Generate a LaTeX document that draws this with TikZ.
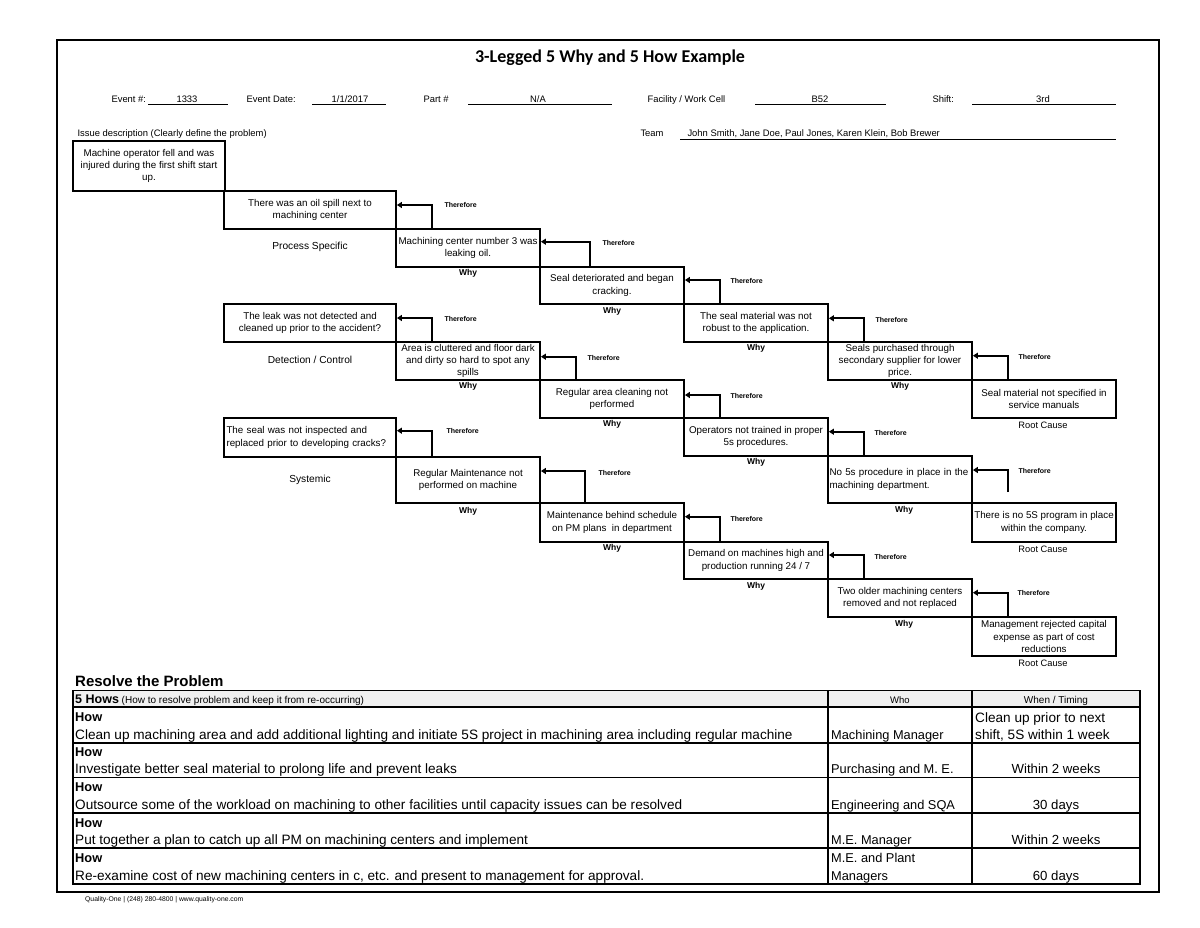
\documentclass[tikz,border=0pt]{standalone}
\usepackage{fontspec}
\setmainfont{Liberation Sans}
\newfontfamily\titlefont{Carlito}
\usetikzlibrary{arrows.meta}
\tikzset{
  wbox/.style={draw, line width=1.8pt, inner sep=1pt, align=center, font=\fontsize{9.8}{12.3}\selectfont},
  arr/.style={line width=2pt, -{Triangle[length=5pt,width=6pt]}},
  ther/.style={anchor=west, font=\bfseries\fontsize{7}{8}\selectfont},
  why/.style={font=\bfseries\fontsize{8.5}{10}\selectfont},
  root/.style={font=\fontsize{9.3}{11}\selectfont},
  leg/.style={font=\fontsize{10.2}{12}\selectfont},
  hdr/.style={anchor=base west, font=\fontsize{9.4}{11}\selectfont},
  hdrc/.style={anchor=base, font=\fontsize{9.4}{11}\selectfont},
  uline/.style={line width=1.5pt},
  tline/.style={line width=1.2pt},
  tcell/.style={anchor=base west, font=\fontsize{13.6}{15}\selectfont, inner sep=0pt},
  wcell/.style={anchor=base west, font=\fontsize{12.8}{15}\selectfont, inner sep=0pt},
  tcellc/.style={anchor=base, font=\fontsize{13.2}{15}\selectfont, inner sep=0pt},
  thow/.style={anchor=base west, font=\bfseries\fontsize{12.8}{15}\selectfont, inner sep=0pt},
}
\begin{document}
\begin{tikzpicture}[x=1pt,y=-1pt]
\useasboundingbox (0,0) rectangle (1200,927);
% frame
\draw[line width=1.5pt] (57,40) rectangle (1159,892);
% title
\node[font=\titlefont\bfseries\fontsize{18}{21}\selectfont] (title) at (610,58) {3-Legged 5 Why and 5 How Example};
% header row
\node[hdr] (evl) at (108,102) {Event \#:};
\draw[uline] (148,104.5) -- (228,104.5);
\node[hdrc] (evv) at (187,102) {1333};
\node[hdr] (edl) at (243,102) {Event Date:};
\draw[uline] (312,104.5) -- (386,104.5);
\node[hdrc] (edv) at (350,102) {1/1/2017};
\node[hdr] (ptl) at (420,102) {Part \#};
\draw[uline] (468,104.5) -- (612,104.5);
\node[hdrc] (ptv) at (538,102) {N/A};
\node[hdr] (fcl) at (644,102) {Facility / Work Cell};
\draw[uline] (755,104.5) -- (886,104.5);
\node[hdrc] (fcv) at (820,102) {B52};
\node[hdr] (shl) at (929,102) {Shift:};
\draw[uline] (972,104.5) -- (1116,104.5);
\node[hdrc] (shv) at (1043,102) {3rd};
\node[hdr] (issl) at (74,136) {Issue description (Clearly define the problem)};
\node[hdr] (teaml) at (637,136) {Team};
\node[hdr] (teamv) at (684,136) {John Smith, Jane Doe, Paul Jones, Karen Klein, Bob Brewer};
\draw[uline] (680,139.5) -- (1116,139.5);
% issue box
\node[wbox, minimum width=152pt, minimum height=50pt] (I) at (149,166) {Machine operator fell and was\\injured during the first shift start\\up.};
% process leg
\node[wbox, minimum width=172pt, minimum height=38pt] (P1) at (310,210) {There was an oil spill next to\\machining center};
\node[wbox, minimum width=144pt, minimum height=38pt] (P2) at (468,248) {Machining center number 3 was\\leaking oil.};
\node[wbox, minimum width=144pt, minimum height=37.5pt] (P3) at (612,285.5) {Seal deteriorated and began\\cracking.};
\node[wbox, minimum width=144pt, minimum height=38pt] (P4) at (756,323) {The seal material was not\\robust to the application.};
\node[wbox, minimum width=144pt, minimum height=38pt] (P5) at (900,361) {Seals purchased through\\secondary supplier for lower\\price.};
\node[wbox, minimum width=144pt, minimum height=38pt] (P6) at (1044,399) {Seal material not specified in\\service manuals};
% detection leg
\node[wbox, minimum width=172pt, minimum height=38pt] (D1) at (310,323) {The leak was not detected and\\cleaned up prior to the accident?};
\node[wbox, minimum width=144pt, minimum height=38pt] (D2) at (468,361) {Area is cluttered and floor dark\\and dirty so hard to spot any\\spills};
\node[wbox, minimum width=144pt, minimum height=38pt] (D3) at (612,399) {Regular area cleaning not\\performed};
\node[wbox, minimum width=144pt, minimum height=38pt] (D4) at (756,437) {Operators not trained in proper\\5s procedures.};
\node[wbox, minimum width=144pt, minimum height=47pt, text width=141pt, align=left] (D5) at (900,479.5) {No 5s procedure in place in the\\machining department.};
\node[wbox, minimum width=144pt, minimum height=39pt] (D6) at (1044,522.5) {There is no 5S program in place\\within the company.};
% systemic leg
\node[wbox, minimum width=172pt, minimum height=39pt, text width=167pt, align=left] (S1) at (310,437.5) {The seal was not inspected and\\replaced prior to developing cracks?};
\node[wbox, minimum width=144pt, minimum height=46pt] (S2) at (468,480) {Regular Maintenance not\\performed on machine};
\node[wbox, minimum width=144pt, minimum height=39pt] (S3) at (612,522.5) {Maintenance behind schedule\\on PM plans\ \ in department};
\node[wbox, minimum width=144pt, minimum height=37pt] (S4) at (756,560.5) {Demand on machines high and\\production running 24 / 7};
\node[wbox, minimum width=144pt, minimum height=38pt] (S5) at (900,598) {Two older machining centers\\removed and not replaced};
\node[wbox, minimum width=144pt, minimum height=39pt] (S6) at (1044,636.5) {Management rejected capital\\expense as part of cost\\reductions};
% leg labels
\node[leg] (lp) at (310,247) {Process Specific};
\node[leg] (ld) at (310,360) {Detection / Control};
\node[leg] (ls) at (310,480) {Systemic};
% arrows process
\draw[arr] ([xshift=36.7pt]P2.north west) |- ([yshift=5pt]P1.east);
\draw[arr] ([xshift=50.7pt]P3.north west) |- ([yshift=6.3pt]P2.east);
\draw[arr] ([xshift=36.7pt]P4.north west) |- ([yshift=5.5pt]P3.east);
\draw[arr] ([xshift=37pt]P5.north west) |- ([yshift=4.7pt]P4.east);
\draw[arr] ([xshift=37.3pt]P6.north west) |- ([yshift=5.3pt]P5.east);
% arrows detection
\draw[arr] ([xshift=36.5pt]D2.north west) |- ([yshift=5pt]D1.east);
\draw[arr] ([xshift=36.7pt]D3.north west) |- ([yshift=4.3pt]D2.east);
\draw[arr] ([xshift=36.7pt]D4.north west) |- ([yshift=4pt]D3.east);
\draw[arr] ([xshift=37pt]D5.north west) |- ([yshift=5.3pt]D4.east);
\draw[arr] ([xshift=37.3pt,yshift=10pt]D6.north west) |- ([yshift=9.5pt]D5.east);
% arrows systemic
\draw[arr] ([xshift=36.7pt]S2.north west) |- ([yshift=6.8pt]S1.east);
\draw[arr] ([xshift=45.7pt]S3.north west) |- ([yshift=9pt]S2.east);
\draw[arr] ([xshift=36.7pt]S4.north west) |- ([yshift=5.8pt]S3.east);
\draw[arr] ([xshift=37pt]S5.north west) |- ([yshift=5.5pt]S4.east);
\draw[arr] ([xshift=37.3pt]S6.north west) |- ([yshift=5.3pt]S5.east);
% therefore labels
\node[ther] (tp1) at (441,205) {Therefore};
\node[ther] (tp2) at (599,243) {Therefore};
\node[ther] (tp3) at (727,281) {Therefore};
\node[ther] (tp4) at (872,320) {Therefore};
\node[ther] (tp5) at (1015,357) {Therefore};
\node[ther] (td1) at (441,319) {Therefore};
\node[ther] (td2) at (584,358) {Therefore};
\node[ther] (td3) at (727,396) {Therefore};
\node[ther] (td4) at (871,433) {Therefore};
\node[ther] (td5) at (1015,471) {Therefore};
\node[ther] (ts1) at (443,431) {Therefore};
\node[ther] (ts2) at (595,473) {Therefore};
\node[ther] (ts3) at (727,519) {Therefore};
\node[ther] (ts4) at (871,557) {Therefore};
\node[ther] (ts5) at (1014,593) {Therefore};
% why labels
\node[why] (wp2) at (468,273.5) {Why};
\node[why] (wp3) at (612,311) {Why};
\node[why] (wp4) at (756,348.5) {Why};
\node[why] (wp5) at (900,386.5) {Why};
\node[why] (wd2) at (468,386.5) {Why};
\node[why] (wd3) at (612,424) {Why};
\node[why] (wd4) at (756,462.5) {Why};
\node[why] (wd5) at (904,510) {Why};
\node[why] (ws2) at (468,511) {Why};
\node[why] (ws3) at (612,548) {Why};
\node[why] (ws4) at (756,586) {Why};
\node[why] (ws5) at (904,624) {Why};
\node[root] (rp) at (1043,425) {Root Cause};
\node[root] (rd) at (1043,549.5) {Root Cause};
\node[root] (rs) at (1043,663) {Root Cause};
% resolve table
\node[anchor=base west, font=\bfseries\fontsize{15}{18}\selectfont, inner sep=0pt] (res) at (75,686) {Resolve the Problem};
\fill[gray!12] (73,690.5) rectangle (1140,707);
\draw[tline] (73,690.5) rectangle (1140,884);
\foreach \yy in {707,743,777.5,813,848} {\draw[tline] (73,\yy) -- (1140,\yy);}
\draw[tline] (828,690.5) -- (828,884);
\draw[tline] (972,690.5) -- (972,884);
\node[anchor=base west, inner sep=0pt] (hh) at (75,703.5) {{\bfseries\fontsize{12.5}{15}\selectfont 5 Hows} {\fontsize{10}{12}\selectfont (How to resolve problem and keep it from re-occurring)}};
\node[anchor=base, font=\fontsize{9.5}{11}\selectfont, inner sep=0pt] (hwho) at (900,703) {Who};
\node[anchor=base, font=\fontsize{10}{12}\selectfont, inner sep=0pt] (hwhen) at (1056,703) {When / Timing};
% row 1
\node[thow] (h1) at (75,721) {How};
\node[tcell] (t1) at (75,739) {Clean up machining area and add additional lighting and initiate 5S project in machining area including regular machine};
\node[wcell] (w1) at (831,739) {Machining Manager};
\node[tcell] (n1a) at (975,722) {Clean up prior to next};
\node[tcell] (n1b) at (975,739) {shift, 5S within 1 week};
% row 2
\node[thow] (h2) at (75,756.5) {How};
\node[tcell] (t2) at (75,773.5) {Investigate better seal material to prolong life and prevent leaks};
\node[wcell] (w2) at (831,773.5) {Purchasing and M. E.};
\node[tcellc] (n2) at (1056,773.5) {Within 2 weeks};
% row 3
\node[thow] (h3) at (75,791.5) {How};
\node[tcell] (t3) at (75,809) {Outsource some of the workload on machining to other facilities until capacity issues can be resolved};
\node[wcell] (w3) at (831,809) {Engineering and SQA};
\node[tcellc] (n3) at (1056,809) {30 days};
% row 4
\node[thow] (h4) at (75,827) {How};
\node[tcell] (t4) at (75,844) {Put together a plan to catch up all PM on machining centers and implement};
\node[wcell] (w4) at (831,844) {M.E. Manager};
\node[tcellc] (n4) at (1056,844) {Within 2 weeks};
% row 5
\node[thow] (h5) at (75,862) {How};
\node[tcell] (t5) at (75,880) {Re-examine cost of new machining centers in c, etc. and present to management for approval.};
\node[wcell] (w5a) at (831,862) {M.E. and Plant};
\node[wcell] (w5b) at (831,880) {Managers};
\node[tcellc] (n5) at (1056,880) {60 days};
% footer
\node[anchor=base west, font=\fontsize{6.8}{8}\selectfont, inner sep=0pt] (foot) at (85,901) {Quality-One | (248) 280-4800 | www.quality-one.com};
\end{tikzpicture}
\end{document}
